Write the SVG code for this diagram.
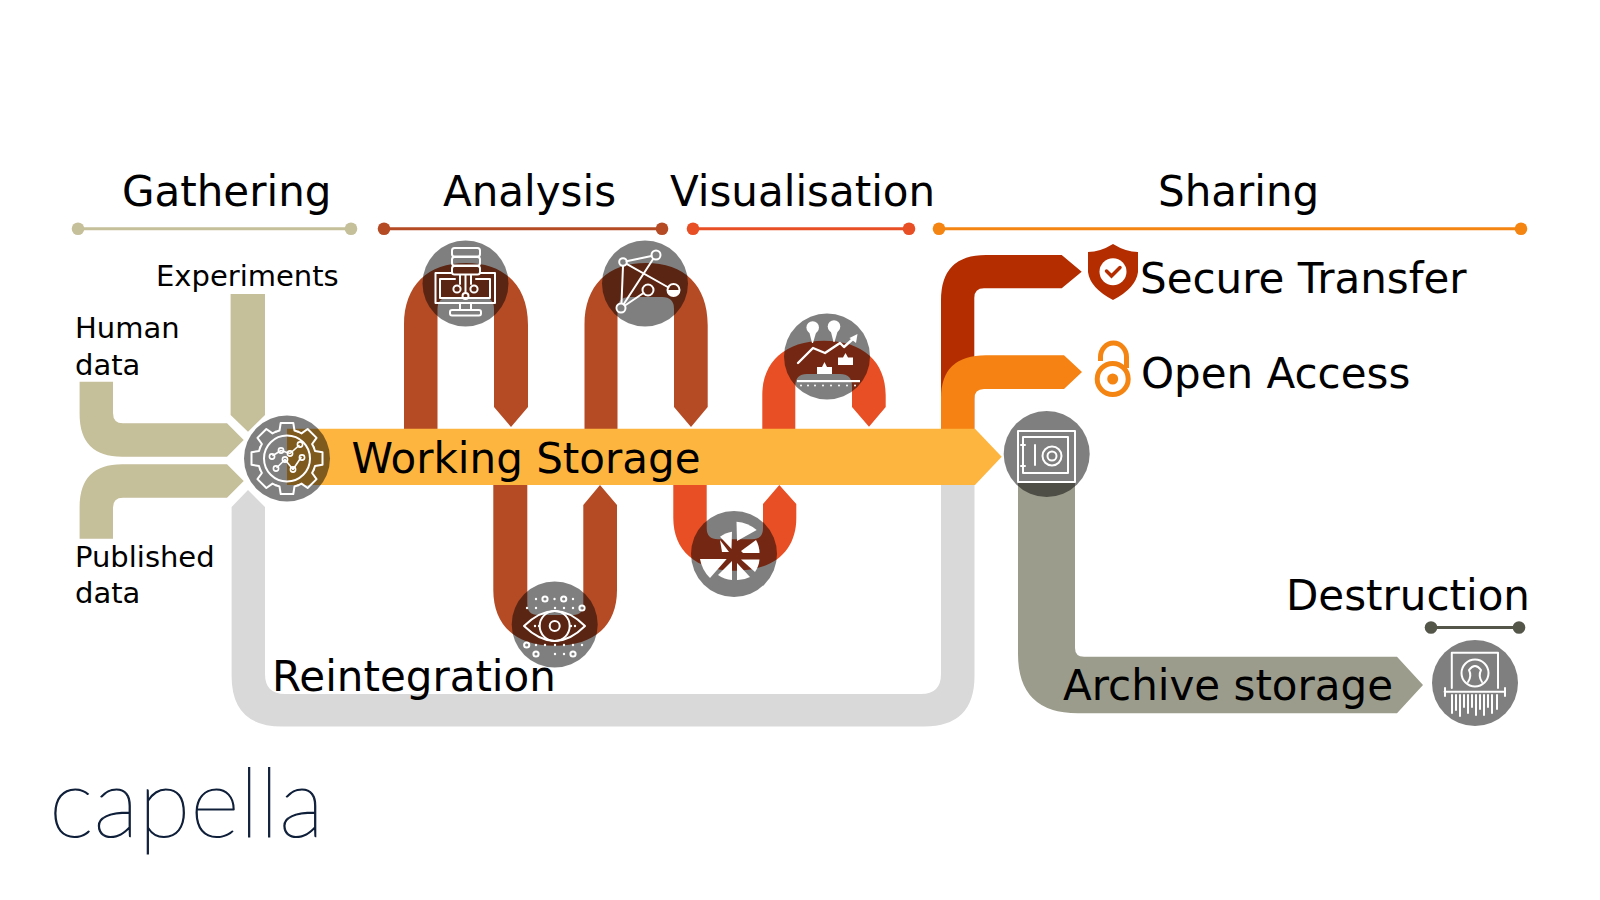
<svg xmlns="http://www.w3.org/2000/svg" xmlns:xlink="http://www.w3.org/1999/xlink" width="1600" height="900" viewBox="0 0 1600 900">
<style>
text{font-family:"DejaVu Sans",sans-serif;fill:#000}
.h{font-size:42px}
.s{font-size:29px}
.logo{font-family:"Lato","Inter",sans-serif;font-weight:100;font-size:96px;fill:#0f1f3a;stroke:#0f1f3a;stroke-width:1.1}
.disc{fill:#000;fill-opacity:.5}
.ic{fill:none;stroke:#fff;stroke-width:2;stroke-linejoin:round;stroke-linecap:round}
.icf{fill:#fff;stroke:none}
.tan{fill:#c5bf9a}.ana{fill:#b54b25}.vis{fill:#e84f24}
</style>
<defs>
<path id="tooth" d="M-11.1,-26.8 L-7.5,-28 L-6.3,-35.5 L6.3,-35.5 L7.5,-28 L11.1,-26.8" class="ic"/>
</defs>
<rect width="1600" height="900" fill="#fff"/>

<g id="phase-rules">
<g stroke-width="3" fill="none">
<path d="M78,228.7H351" stroke="#c5bf9a"/>
<path d="M384,228.7H662" stroke="#b54b25"/>
<path d="M693,228.7H909" stroke="#e84f24"/>
<path d="M939,228.7H1521" stroke="#f58512"/>
<path d="M1431,627.5H1519" stroke="#55564a"/>
</g>
<circle cx="78" cy="228.7" r="6.3" fill="#c5bf9a"/><circle cx="351" cy="228.7" r="6.3" fill="#c5bf9a"/>
<circle cx="384" cy="228.7" r="6.3" fill="#b54b25"/><circle cx="662" cy="228.7" r="6.3" fill="#b54b25"/>
<circle cx="693" cy="228.7" r="6.3" fill="#e84f24"/><circle cx="909" cy="228.7" r="6.3" fill="#e84f24"/>
<circle cx="939" cy="228.7" r="6.3" fill="#f58512"/><circle cx="1521" cy="228.7" r="6.3" fill="#f58512"/>
<circle cx="1431" cy="627.5" r="6.3" fill="#55564a"/><circle cx="1519" cy="627.5" r="6.3" fill="#55564a"/>
</g>

<g id="connectors">
<path id="reintegration-flow" fill="#d9d9d9" d="M248,490 L265,507 V674 Q265,694 285,694 H921 Q941,694 941,674 V485 H974.5 V676 Q974.5,726.5 924,726.5 H282 Q231.6,726.5 231.6,676 V507 Z"/>
<path id="experiments-flow" class="tan" d="M230.6,294 H265 V415 L248,431.7 L230.6,415 Z"/>
<path id="human-flow" class="tan" d="M79.6,381.7 H113 V413 Q113,423.3 123,423.3 H227 L243.7,440 L227,456.7 H122 Q79.6,456.7 79.6,414 Z"/>
<path id="published-flow" class="tan" d="M79.6,538.8 H113 V507.5 Q113,497.7 123,497.7 H227 L243.7,481 L227,464.3 H122 Q79.6,464.3 79.6,507 Z"/>
<path class="ana" d="M404,429 V325 C404,285 428,263 466,263 C504,263 528,285 528,325 V407 L511,427 L494,407 V309 Q494,297 482,297 H450 Q437.5,297 437.5,309 V429 Z"/>
<path class="ana" d="M584.5,429 V325 C584.5,285 608,263 646,263 C684,263 707.7,285 707.7,325 V407 L691,427 L674,407 V309 Q674,297 662,297 H630 Q617.5,297 617.5,309 V429 Z"/>
<path class="ana" d="M493.3,485 H527.3 V604 Q527.3,615 538,615 H573 Q583.3,615 583.3,604 V505 L600,485 L617,505 V590 C617,625 595,645.7 555,645.7 C515,645.7 493.3,625 493.3,590 Z"/>
<path class="vis" d="M762.3,429 V395 C762.3,362 785,340.7 824,340.7 C863,340.7 885.7,362 885.7,395 V407 L869,426.7 L852,407 V386 Q852,374 840,374 H807 Q795.3,374 795.3,386 V429 Z"/>
<path class="vis" d="M673.3,485 H706.7 V528 Q706.7,539.3 718,539.3 H752 Q763,539.3 763,528 V504 L779.3,485 L796.3,504 V518 C796.3,550 775,570.7 735,570.7 C695,570.7 673.3,550 673.3,518 Z"/>
<path id="secure-flow" fill="#b32d00" d="M941,429 V300 Q941,255 986,255 H1061.7 L1081.7,271.7 L1061.7,288.3 H984 Q974.3,288.3 974.3,298 V429 Z"/>
<path id="open-flow" fill="#f58212" d="M941,429 V398 Q941,355.3 986,355.3 H1064 L1082,372 L1064,389 H984 Q974.3,389 974.3,399 V429 Z"/>
<path id="archive-flow" fill="#9c9c8c" d="M1018,483 H1075 V648 Q1075,656.7 1084,656.7 H1397 L1423,685 L1397,713.3 H1078 Q1018,713.3 1018,654 Z"/>
<path id="working-storage-flow" fill="#feb53f" d="M287,428.7 H975 L1001.7,456.7 L975,485 H287 Z"/>
</g>

<g id="node-gather">
<circle class="disc" cx="287" cy="458.5" r="43"/>
<g transform="translate(287,458.5)">
<use xlink:href="#tooth" href="#tooth"/>
<use xlink:href="#tooth" href="#tooth" transform="rotate(45)"/>
<use xlink:href="#tooth" href="#tooth" transform="rotate(90)"/>
<use xlink:href="#tooth" href="#tooth" transform="rotate(135)"/>
<use xlink:href="#tooth" href="#tooth" transform="rotate(180)"/>
<use xlink:href="#tooth" href="#tooth" transform="rotate(225)"/>
<use xlink:href="#tooth" href="#tooth" transform="rotate(270)"/>
<use xlink:href="#tooth" href="#tooth" transform="rotate(315)"/>
<circle class="ic" r="23"/>
<path class="ic" style="stroke-width:1.6" d="M-14,-3 L-6,-8 L3,-5 L12,-13 M-10,9 L-2,1 L6,11 L14,-1"/>
<g class="ic" style="stroke-width:1.6"><circle cx="-15" cy="-2" r="2.6"/><circle cx="-6" cy="-8" r="2.6"/><circle cx="3" cy="-5" r="2.6"/><circle cx="13" cy="-14" r="2.6"/><circle cx="-11" cy="10" r="2.6"/><circle cx="-2" cy="1" r="2.6"/><circle cx="6" cy="11" r="2.6"/><circle cx="15" cy="-1" r="2.6"/></g>
</g>
</g>

<g id="node-database">
<circle class="disc" cx="465.5" cy="283.5" r="43"/>
<g class="ic">
<rect x="452" y="248" width="28" height="8.5" rx="2.5"/><rect x="452" y="257" width="28" height="8.5" rx="2.5"/><rect x="452" y="266" width="28" height="8.5" rx="2.5"/>
<path d="M452,273 H435.5 V303 H495 V273 H480"/>
<path d="M440,279 V298 H490 V279 H476 M455,279 H440"/>
<path d="M465.5,275 V292 M460,275 V284 M471,275 V284"/>
<circle cx="457" cy="289" r="3.6"/><circle cx="474" cy="289" r="3.6"/><circle cx="465.5" cy="296" r="3"/>
<path d="M460,303 V310 M471,303 V310"/><rect x="450" y="310" width="31" height="5.5" rx="2"/>
</g>
</g>

<g id="node-network">
<circle class="disc" cx="645" cy="283.5" r="43"/>
<g class="ic">
<path d="M626.500,261.300 L651.500,256 M652.800,259.500 L623.500,304.500 M623,266 L621.500,303 M627,264.200 L668.500,287.500 M625,305.500 L643.500,293"/>
<circle cx="623" cy="262" r="3.8"/><circle cx="656" cy="255" r="4.5"/><circle cx="648" cy="290" r="5.5"/><circle cx="673.5" cy="290" r="6"/>
<circle cx="621" cy="308" r="4.5"/>
</g>
<path class="icf" d="M667.5,290 H679.5 A6,6 0 0 1 667.5,290 Z"/>
</g>

<g id="node-eye">
<circle class="disc" cx="554.7" cy="624.5" r="43"/>
<g class="ic">
<path d="M524,626 Q555,596 585,626 Q555,656 524,626 Z"/>
<circle cx="554.7" cy="626" r="15"/><circle cx="554.7" cy="626" r="5"/>
<circle cx="545" cy="599" r="2.6"/><circle cx="563.7" cy="599" r="2.6"/><circle cx="582" cy="608" r="2.6"/>
<circle cx="526.7" cy="645" r="2.6"/><circle cx="536" cy="654" r="2.6"/><circle cx="573" cy="654" r="2.6"/>
</g>
<g class="icf"><circle cx="536" cy="599" r="1.2"/><circle cx="554.5" cy="599" r="1.2"/><circle cx="573" cy="599" r="1.2"/><circle cx="527" cy="608" r="1.2"/><circle cx="536" cy="608" r="1.2"/><circle cx="555" cy="608" r="1.2"/><circle cx="564" cy="608" r="1.2"/><circle cx="573" cy="608" r="1.2"/><circle cx="536" cy="645" r="1.2"/><circle cx="545" cy="645" r="1.2"/><circle cx="555" cy="645" r="1.2"/><circle cx="564" cy="645" r="1.2"/><circle cx="573" cy="645" r="1.2"/><circle cx="582" cy="645" r="1.2"/><circle cx="555" cy="654" r="1.2"/><circle cx="564" cy="654" r="1.2"/><circle cx="535" cy="626" r="1.2"/><circle cx="539" cy="626" r="1.2"/><circle cx="571" cy="626" r="1.2"/><circle cx="575" cy="626" r="1.2"/></g>
</g>

<g id="node-wheel">
<circle class="disc" cx="734" cy="554" r="43"/>
<g class="icf">
<path d="M736.500,521.700 A35,35 0 0 1 756.700,530 L737,541 Z"/>
<path d="M732,531.700 A26,26 0 0 0 720,536.700 L731.500,549 Z"/>
<path d="M741,551 L756,540 A26,26 0 0 1 759.500,553 H743 Z"/>
<path d="M720,540 L729,552 L722,552 Z"/>
<path d="M700,559 H726.700 L710,578 A35,35 0 0 1 700,559 Z"/>
<path d="M732,561 V580 A26,26 0 0 1 718,575 Z"/>
<path d="M741,559.500 H759.500 A26,26 0 0 1 755,572 Z"/>
<path d="M737,563 L750,577 A26,26 0 0 1 737,580 Z"/>
</g>
</g>

<g id="node-insight">
<circle class="disc" cx="827" cy="356.5" r="43"/>
<g class="icf">
<circle cx="812.7" cy="327.5" r="6.3"/><path d="M809,331 H816.500 L813,343 H812 Z"/>
<circle cx="834" cy="326.500" r="6.3"/><path d="M830.500,330 H838 L834.500,342 H833.500 Z"/>
<path d="M817,374 V367 H822 L824.5,362 L827,367 H832 V374 Z"/>
<path d="M838,365 V357.5 H843 L845.5,353 L848,357.5 H853 V365 Z"/>
<rect x="797" y="380" width="63" height="2.2"/>
<circle cx="801" cy="385.5" r="1"/><circle cx="808" cy="385.5" r="1"/><circle cx="815" cy="385.5" r="1"/><circle cx="823" cy="385.5" r="1"/><circle cx="831" cy="385.5" r="1"/><circle cx="839" cy="385.5" r="1"/><circle cx="847" cy="385.5" r="1"/><circle cx="855" cy="385.5" r="1"/>
<path d="M857.5,334 L856,343 L849.5,338 Z"/>
</g>
<path class="ic" style="stroke-width:2.4" d="M798,363 L813,348 L825,353 L840,343 L844,347 L854,338"/>
</g>

<g id="node-safe">
<circle class="disc" cx="1046.7" cy="454" r="43"/>
<g class="ic">
<rect x="1018" y="431" width="57" height="51"/>
<rect x="1023" y="437" width="45" height="36"/>
<path d="M1035,445 V465"/>
<circle cx="1052" cy="456" r="9.5"/><circle cx="1052" cy="456" r="4.5"/>
<path d="M1021,445 H1025 M1021,466 H1025"/>
</g>
</g>

<g id="node-shredder">
<circle class="disc" cx="1475" cy="683" r="43"/>
<g class="ic">
<path d="M1451.8,688 V652.7 H1498 V688"/>
<circle cx="1475" cy="673" r="13.5"/>
<path d="M1468,682 Q1472,676 1469,670 Q1475,662 1481,670 Q1478,676 1482,682"/>
<path d="M1444.6,691.7 H1505 M1445,688 V696 M1505,688 V696"/>
<path d="M1452,695 V713 M1456,695 V710 M1460,695 V716 M1464,695 V707 M1468,695 V713 M1472,695 V707 M1476,695 V715 M1480,695 V709 M1484,695 V715 M1488,695 V707 M1492,695 V713 M1497,695 V709"/>
</g>
</g>

<g id="node-shield">
<path fill="#b32d00" d="M1113,244 Q1126,252 1138,252 V272 Q1136,288 1113,300 Q1090,288 1088,272 V252 Q1100,252 1113,244 Z"/>
<circle cx="1113" cy="271.7" r="13.5" fill="#fff"/>
<path d="M1106.5,271 L1111.5,276 L1120,267.5" fill="none" stroke="#b32d00" stroke-width="3.5" stroke-linecap="round"/>
</g>

<g id="node-open-lock">
<circle cx="1112.7" cy="379" r="15.5" fill="none" stroke="#f58512" stroke-width="5"/>
<circle cx="1112.7" cy="379" r="5.5" fill="#f58512"/>
<path d="M1100.5,361 V357 A13,14 0 0 1 1126.5,357 V368" fill="none" stroke="#f58512" stroke-width="5"/>
</g>

<g id="labels">
<text class="h" x="122" y="205.500">Gathering</text>
<text class="h" x="443" y="205.500">Analysis</text>
<text class="h" x="670" y="205.500">Visualisation</text>
<text class="h" x="1158" y="205.500">Sharing</text>
<text class="s" x="156" y="286">Experiments</text>
<text class="s" x="75" y="338">Human</text>
<text class="s" x="75" y="375">data</text>
<text class="s" x="75" y="566.500">Published</text>
<text class="s" x="75" y="603">data</text>
<text class="h" x="351.500" y="472.500">Working Storage</text>
<text class="h" x="1140" y="292.500">Secure Transfer</text>
<text class="h" x="1141" y="387.500">Open Access</text>
<text class="h" x="1286" y="610">Destruction</text>
<text class="h" x="1063" y="699.500">Archive storage</text>
<text class="h" x="272" y="690.500">Reintegration</text>
<text class="logo" x="49" y="837" textLength="275" lengthAdjust="spacingAndGlyphs">capella</text>
</g>
</svg>
